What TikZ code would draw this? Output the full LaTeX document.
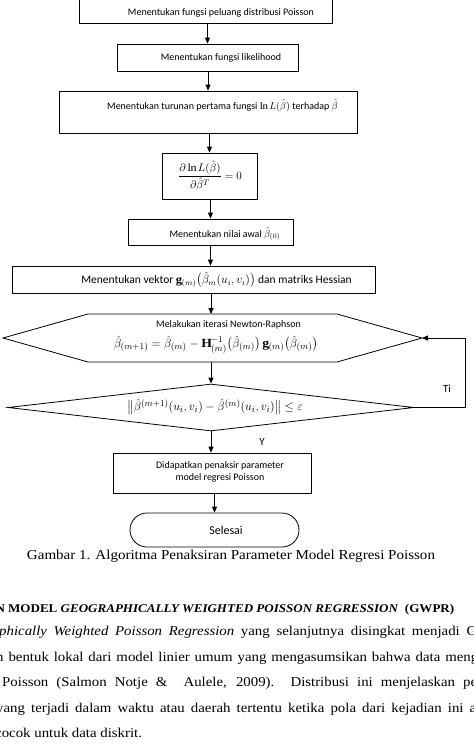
\documentclass[tikz,border=0pt]{standalone}
\usepackage{amsmath}
\usepackage{fontspec}
\setmainfont{Liberation Serif}[FakeStretch=1.1]
\newfontfamily\carlito{Carlito}
\usetikzlibrary{arrows.meta,shapes.geometric,calc}
\begin{document}
\begin{tikzpicture}[x=1pt,y=-1pt,
  box/.style={draw,line width=0.8pt,inner sep=0pt},
  flowtxt/.style={font=\carlito\fontsize{10}{12}\selectfont,inner sep=0pt},
  bigmath/.style={font=\carlito\fontsize{12.5}{14}\selectfont},
  arr/.style={line width=0.8pt,-{Triangle[length=6pt,width=5pt]}},
  lbl/.style={font=\carlito\fontsize{11}{13}\selectfont,inner sep=0pt},
  bodytxt/.style={font=\fontsize{13.5}{15}\selectfont,inner sep=0pt,anchor=base west}]
\useasboundingbox (0,0) rectangle (474,748);
\clip (0,0) rectangle (474,748);
% boxes
\node[box,minimum width=253pt,minimum height=33pt] (b1) at (205.5,6.5) {};
\node[box,minimum width=181pt,minimum height=27pt] (b2) at (207.5,57.5) {};
\node[box,minimum width=298pt,minimum height=42pt] (b3) at (208,112) {};
\node[box,minimum width=95pt,minimum height=46pt] (b4) at (209.5,176) {};
\node[box,minimum width=165pt,minimum height=26pt] (b5) at (210.5,232) {};
\node[box,minimum width=363pt,minimum height=27pt] (b6) at (193.5,279.5) {};
\draw[line width=0.8pt] (3,338) coordinate (hexL) -- (88,314) -- (337,314) -- (422,338) coordinate (hexR) -- (337,362) -- (88,362) -- cycle;
\coordinate (hexT) at (211,314);
\coordinate (hexB) at (211,362);
\node[box,diamond,minimum width=406pt,minimum height=47pt] (dia) at (211,407.5) {};
\node[box,minimum width=198pt,minimum height=40pt] (b9) at (212,473) {};
\node[box,rounded corners=17pt,minimum width=169pt,minimum height=34pt] (endn) at (214.5,530) {};
% texts
\node[flowtxt] (t1) at (221,13) {Menentukan fungsi peluang distribusi Poisson};
\node[flowtxt] (t2) at (221,58) {Menentukan fungsi likelihood};
\node[flowtxt] (t3) at (222.5,106) {Menentukan turunan pertama fungsi $\ln L(\hat{\beta})$ terhadap $\hat{\beta}$};
\node[flowtxt,font=\carlito\fontsize{11}{13}\selectfont] (t4) at (210,176) {$\dfrac{\partial \ln L(\hat{\beta})}{\partial \hat{\beta}^{T}} = 0$};
\node[flowtxt] (t5) at (225,234) {Menentukan nilai awal $\hat{\beta}_{(0)}$};
\node[flowtxt,font=\carlito\fontsize{11.5}{13}\selectfont] (t6) at (216.5,280) {Menentukan vektor $\mathbf{g}_{(m)}\big(\hat{\beta}_{m}(u_i,v_i)\big)$ dan matriks Hessian};
\node[flowtxt] (t7a) at (228.5,325) {Melakukan iterasi Newton-Raphson};
\node[flowtxt,bigmath] (t7b) at (216,345) {$\hat{\beta}_{(m+1)} = \hat{\beta}_{(m)} - \mathbf{H}^{-1}_{(m)}\big(\hat{\beta}_{(m)}\big)\,\mathbf{g}_{(m)}\big(\hat{\beta}_{(m)}\big)$};
\node[flowtxt,bigmath] (t8) at (215,407) {$\big\|\hat{\beta}^{(m+1)}(u_i,v_i) - \hat{\beta}^{(m)}(u_i,v_i)\big\| \le \varepsilon$};
\node[flowtxt,align=center] (t9) at (220,472) {Didapatkan penaksir parameter\\model regresi Poisson};
\node[flowtxt,font=\carlito\fontsize{12}{14}\selectfont] (tend) at (226,530) {Selesai};
% connectors
\draw[arr] (b1.south -| b2.north) -- (b2.north);
\draw[arr] (b2.south -| b3.north) -- (b3.north);
\draw[arr] (b3.south -| b4.north) -- (b4.north);
\draw[arr] (b4.south -| b5.north) -- (b5.north);
\draw[arr] (b5.south) -- (b5.south |- b6.north);
\draw[arr] (b6.south -| hexT) -- (hexT);
\draw[arr] (hexB) -- (dia.north);
\draw[arr] (dia.south) -- (dia.south |- b9.north);
\draw[arr] (b9.south -| endn.north) -- (endn.north);
\draw[arr] (dia.east) -- ++(51,0) coordinate (fb) |- (hexR);
\node[lbl] (ti) at (447,389) {Ti};
\node[lbl] (y) at (262,442) {Y};
% caption and text below
\node[inner sep=0pt,font=\fontsize{14}{16}\selectfont] (cap) at (231,556) {\resizebox{408pt}{!}{Gambar 1. Algoritma Penaksiran Parameter Model Regresi Poisson}};
\node[bodytxt] (head) at (8,612) {\resizebox{446pt}{!}{\llap{\textbf{N} }\textbf{MODEL} \textbf{\textit{GEOGRAPHICALLY WEIGHTED POISSON REGRESSION}}\ \ \textbf{(GWPR)}}};
\node[bodytxt] (l1) at (-1,635) {\makebox[478pt][s]{\llap{\textit{Geogra}}\textit{phically Weighted Poisson Regression} yang selanjutnya disingkat menjadi G\rlap{WPR}}};
\node[bodytxt] (l2) at (-4,661) {\makebox[482pt][s]{\llap{merupaka}n bentuk lokal dari model linier umum yang mengasumsikan bahwa data meng\rlap{ikuti}}};
\node[bodytxt] (l3) at (2,686) {\makebox[475pt][s]{Poisson (Salmon Notje \&\ \ Aulele, 2009).\ \ Distribusi ini menjelaskan pe\rlap{luang}}};
\node[bodytxt] (l4) at (-4,712) {\makebox[480pt][s]{yang terjadi dalam waktu atau daerah tertentu ketika pola dari kejadian ini a\rlap{cak}}};
\node[bodytxt] (l5) at (-5,737) {cocok untuk data diskrit.};
\end{tikzpicture}
\end{document}
